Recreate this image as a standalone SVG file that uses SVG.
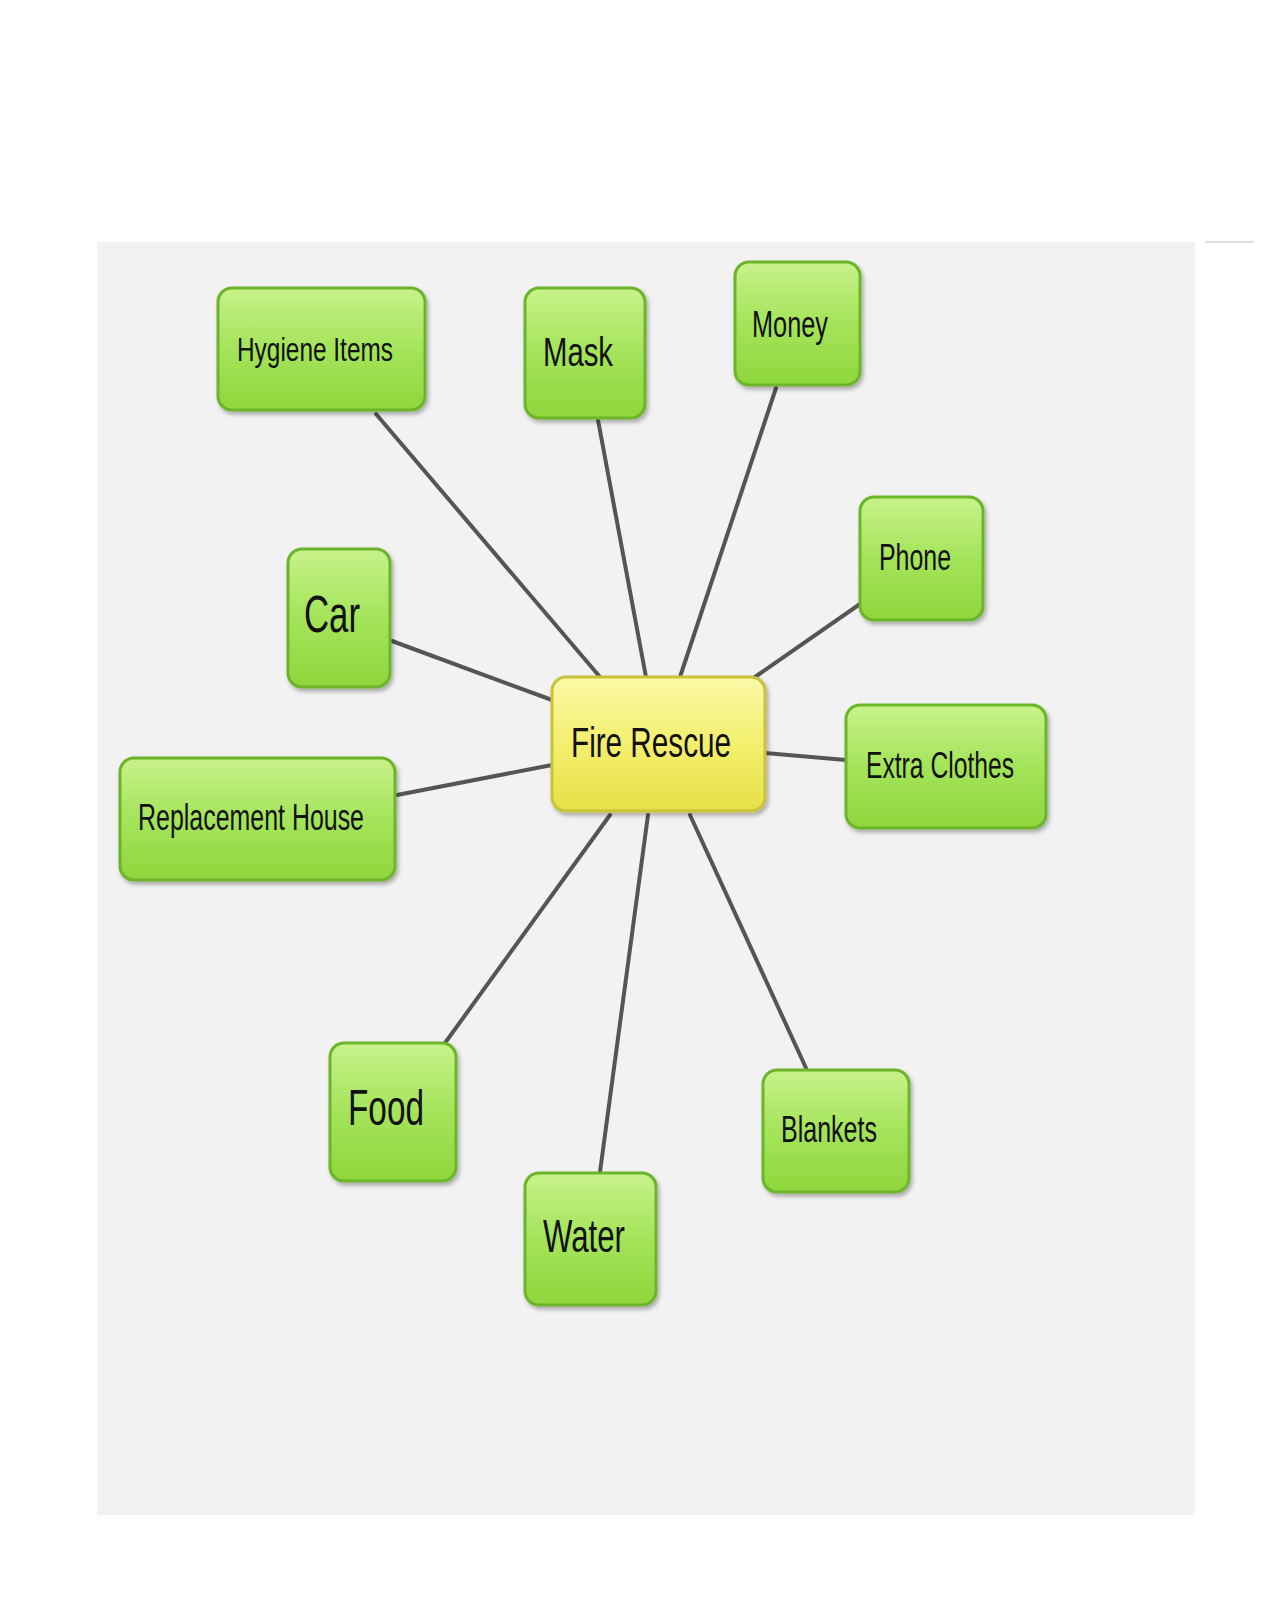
<svg xmlns="http://www.w3.org/2000/svg" width="1280" height="1600" viewBox="0 0 1280 1600">
<defs>
<linearGradient id="g" x1="0" y1="0" x2="0" y2="1"><stop offset="0" stop-color="#c8f28a"/><stop offset="0.5" stop-color="#a4e45a"/><stop offset="1" stop-color="#8fd63c"/></linearGradient>
<linearGradient id="y" x1="0" y1="0" x2="0" y2="1"><stop offset="0" stop-color="#fbf9a8"/><stop offset="0.5" stop-color="#f3ef6e"/><stop offset="1" stop-color="#e6e046"/></linearGradient>
<filter id="s" x="-10%" y="-10%" width="130%" height="130%"><feDropShadow dx="2" dy="3" stdDeviation="2" flood-color="#000" flood-opacity="0.3"/></filter>
</defs>
<style>
.n rect{fill:url(#g);stroke:#6cb52c;stroke-width:3;filter:url(#s)}
.c rect{fill:url(#y);stroke:#c9c23a;stroke-width:3;filter:url(#s)}
text{font-family:"Liberation Sans",Arial,sans-serif;fill:#111;text-anchor:middle;dominant-baseline:middle}
#edges line{stroke:#555;stroke-width:4;stroke-linecap:round}
</style>
<rect width="1280" height="1600" fill="#fff"/>
<rect x="97" y="242" width="1098" height="1273" fill="#f2f2f2"/>
<line x1="1205" y1="242" x2="1254" y2="242" stroke="#ddd" stroke-width="2"/>
<g id="edges">
<line x1="376" y1="414" x2="600" y2="677"/>
<line x1="598" y1="420" x2="646" y2="677"/>
<line x1="776" y1="388" x2="680" y2="677"/>
<line x1="860" y1="604" x2="755" y2="677"/>
<line x1="392" y1="641" x2="552" y2="700"/>
<line x1="765" y1="753" x2="846" y2="760"/>
<line x1="397" y1="795" x2="552" y2="765"/>
<line x1="445" y1="1043" x2="610" y2="815"/>
<line x1="600" y1="1172" x2="648" y2="815"/>
<line x1="806" y1="1068" x2="690" y2="815"/>
</g>
<g id="hygiene" class="n"><rect x="218" y="288" width="207" height="122" rx="14"/><text x="315" y="352" font-size="34" textLength="156" lengthAdjust="spacingAndGlyphs">Hygiene Items</text></g>
<g id="mask" class="n"><rect x="525" y="288" width="120" height="130" rx="14"/><text x="578" y="355" font-size="40" textLength="70" lengthAdjust="spacingAndGlyphs">Mask</text></g>
<g id="money" class="n"><rect x="735" y="262" width="125" height="123" rx="14"/><text x="790" y="327" font-size="36" textLength="76" lengthAdjust="spacingAndGlyphs">Money</text></g>
<g id="phone" class="n"><rect x="860" y="497" width="123" height="123" rx="14"/><text x="915" y="560" font-size="36" textLength="72" lengthAdjust="spacingAndGlyphs">Phone</text></g>
<g id="car" class="n"><rect x="288" y="549" width="102" height="138" rx="14"/><text x="332" y="618" font-size="52" textLength="56" lengthAdjust="spacingAndGlyphs">Car</text></g>
<g id="fire" class="c"><rect x="552" y="677" width="213" height="134" rx="14"/><text x="651" y="746" font-size="42" textLength="160" lengthAdjust="spacingAndGlyphs">Fire Rescue</text></g>
<g id="clothes" class="n"><rect x="846" y="705" width="200" height="123" rx="14"/><text x="940" y="768" font-size="36" textLength="148" lengthAdjust="spacingAndGlyphs">Extra Clothes</text></g>
<g id="house" class="n"><rect x="120" y="758" width="275" height="122" rx="14"/><text x="251" y="820" font-size="36" textLength="226" lengthAdjust="spacingAndGlyphs">Replacement House</text></g>
<g id="food" class="n"><rect x="330" y="1043" width="126" height="138" rx="14"/><text x="386" y="1112" font-size="50" textLength="76" lengthAdjust="spacingAndGlyphs">Food</text></g>
<g id="water" class="n"><rect x="525" y="1173" width="131" height="132" rx="14"/><text x="584" y="1240" font-size="46" textLength="82" lengthAdjust="spacingAndGlyphs">Water</text></g>
<g id="blankets" class="n"><rect x="763" y="1070" width="146" height="122" rx="14"/><text x="829" y="1132" font-size="36" textLength="96" lengthAdjust="spacingAndGlyphs">Blankets</text></g>
</svg>
